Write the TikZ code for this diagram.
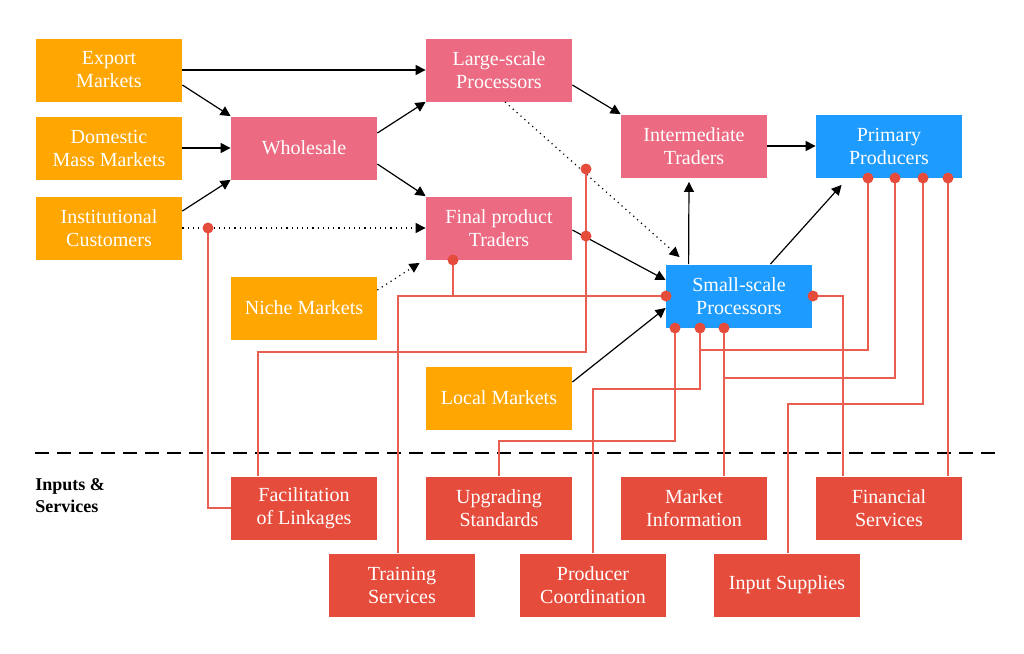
\documentclass[tikz,border=0pt]{standalone}
\usepackage{fontspec}
\setmainfont{Liberation Serif}
\usetikzlibrary{calc,arrows.meta}
\definecolor{mktorange}{HTML}{FFA600}
\definecolor{actorpink}{HTML}{EC6A82}
\definecolor{procblue}{HTML}{1E9BFF}
\definecolor{servred}{HTML}{E64C3C}
\begin{document}
\begin{tikzpicture}[
    x=0.5pt, y=-0.5pt,
    font=\fontsize{10}{11.5}\selectfont,
    box/.style={minimum width=73pt, minimum height=31.5pt, align=center, text=white, inner sep=1pt},
    market/.style={box, fill=mktorange},
    actor/.style={box, fill=actorpink},
    proc/.style={box, fill=procblue},
    serv/.style={box, fill=servred},
    flow/.style={-{Triangle[length=5pt,width=5pt]}, line width=0.6pt},
    dflow/.style={flow, dotted},
    link/.style={servred!90!white, line width=0.6pt},
    dot/.style={circle, fill=servred, inner sep=0pt, minimum size=5.5pt}
]
\useasboundingbox (0,0) rectangle (1024,654);

% markets
\node[market] (export) at (109,70) {Export\\Markets};
\node[market] (domestic) at (109,148) {Domestic\\Mass Markets};
\node[market] (instit) at (109,228) {Institutional\\Customers};
\node[market] (niche) at (304,308) {Niche Markets};
\node[market] (local) at (499,398) {Local Markets};

% actors
\node[actor] (wholesale) at (304,148) {Wholesale};
\node[actor] (large) at (499,70) {Large-scale\\Processors};
\node[actor] (final) at (499,228) {Final product\\Traders};
\node[actor] (inter) at (694,146) {Intermediate\\Traders};
\node[proc] (primary) at (889,146) {Primary\\Producers};
\node[proc] (small) at (739,296) {Small-scale\\Processors};

% services
\node[serv] (facil) at (304,508) {Facilitation\\of Linkages};
\node[serv] (upgr) at (499,508) {Upgrading\\Standards};
\node[serv] (minfo) at (694,508) {Market\\Information};
\node[serv] (fin) at (889,508) {Financial\\Services};
\node[serv] (train) at (402,585) {Training\\Services};
\node[serv] (prodco) at (593,585) {Producer\\Coordination};
\node[serv] (input) at (787,585) {Input Supplies};

% separator
\coordinate (sepl) at (35,453);
\coordinate (sepr) at (995,453);
\draw[dashed, line width=0.9pt, dash pattern=on 7pt off 4pt] (sepl) -- (sepr);
\node[anchor=west, align=left, font=\fontsize{9}{11}\selectfont\bfseries, inner sep=0pt] (inputs) at (35,496) {Inputs \&\\Services};

% value chain flows
\draw[flow] (export.east) -- (large.west);
\draw[flow] ($(export.east)+(0,15)$) -- (wholesale.north west);
\draw[flow] (domestic.east) -- (wholesale.west);
\draw[flow] ($(instit.east)+(0,-17)$) -- (wholesale.south west);
\draw[dflow] (instit.east) -- (final.west);
\draw[dflow] ($(niche.east)+(0,-18)$) -- ($(final.south west)+(-6,3)$);
\draw[flow] ($(wholesale.east)+(0,-15)$) -- (large.south west);
\draw[flow] ($(wholesale.east)+(0,16)$) -- (final.north west);
\draw[flow] ($(large.east)+(0,15)$) -- (inter.north west);
\draw[dflow] ($(large.south)+(6,0)$) -- ($(small.north west)+(14,-7)$);
\draw[flow] ($(final.east)+(0,2)$) -- ($(small.west)+(0,-16)$);
\draw[flow] (inter.east) -- (primary.west);
\draw[flow] ($(small.north west)+(23,0)$) -- ($(inter.south)+(-5,4)$);
\draw[flow] ($(small.north east)+(-42,0)$) -- ($(primary.south west)+(26,7)$);
\draw[flow] ($(local.east)+(0,-16)$) -- ($(small.west)+(0,12)$);

% service links
\coordinate (d1) at (208,228);
\coordinate (d2) at (586,169);
\coordinate (d3) at (586,236);
\coordinate (d4) at (453,260);
\coordinate (d5) at (666,296);
\coordinate (d6) at (813,296);
\coordinate (d7) at (675,328);
\coordinate (d8) at (700,328);
\coordinate (d9) at (724,328);
\coordinate (p1) at (868,178);
\coordinate (p2) at (895,178);
\coordinate (p3) at (923,178);
\coordinate (p4) at (948,178);
\draw[link] (facil.west) -| (d1);
\draw[link] ($(facil.north)+(-46,0)$) |- (586,352) -- (d2);
\draw[link] ($(train.north)+(-4,0)$) |- (d5);
\draw[link] (453,297) -- (d4);
\draw[link] (upgr.north) |- (675,441) -- (d7);
\draw[link] (prodco.north) |- (700,389) -- (d8);
\draw[link] (700,350) -| (p1);
\draw[link] ($(minfo.north)+(30,0)$) -- (d9);
\draw[link] (724,378) -| (p2);
\draw[link] ($(input.north)+(1,0)$) |- (923,404) -- (p3);
\draw[link] ($(fin.north)+(-46,0)$) |- (d6);
\draw[link] ($(fin.north)+(59,0)$) -- (p4);
\foreach \d in {d1,d2,d3,d4,d5,d6,d7,d8,d9,p1,p2,p3,p4}
    \node[dot] at (\d) {};
\end{tikzpicture}
\end{document}
